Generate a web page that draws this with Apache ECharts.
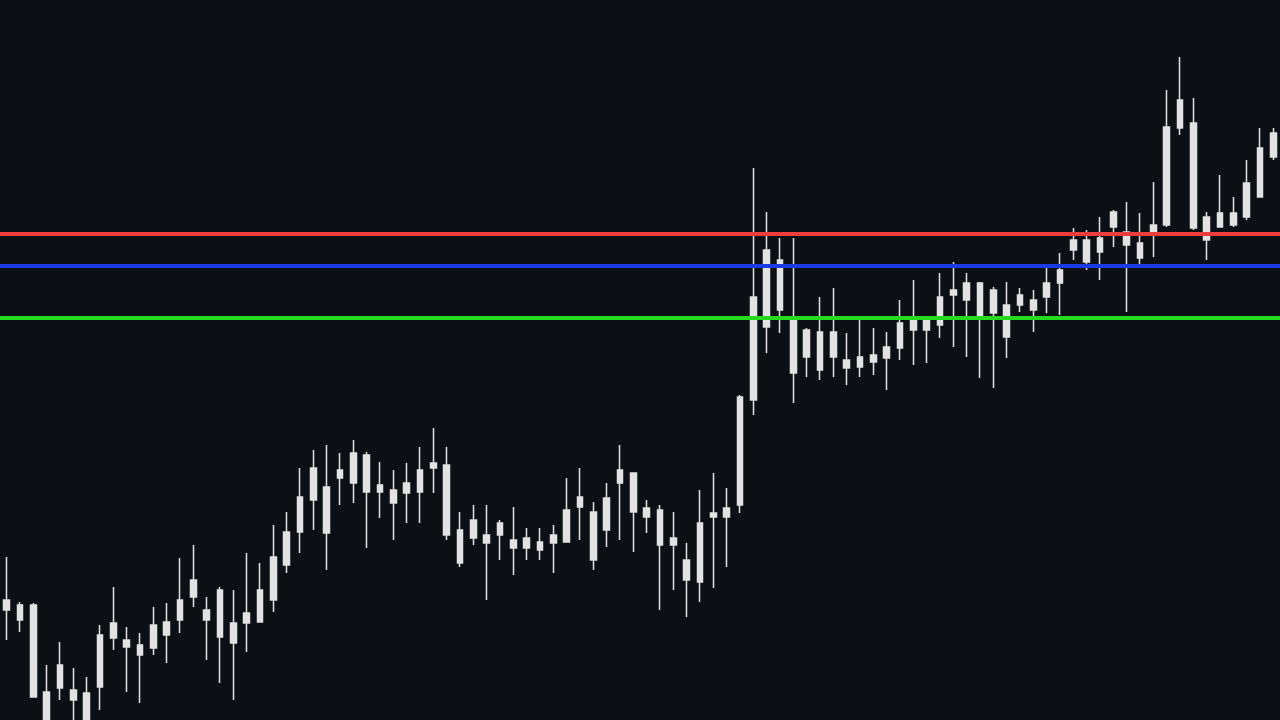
<!DOCTYPE html>
<html>
<head>
<meta charset="utf-8">
<script src="https://cdn.jsdelivr.net/npm/echarts@6/dist/echarts.min.js"></script>
<style>
html,body{margin:0;padding:0;background:#0c0f14;}
#chart{width:1280px;height:720px;}
</style>
</head>
<body>
<div id="chart"></div>
<script>
// Candle values (price units)
const opens  = [110,100,23,-5,32,20,-5,33,82,73,65,72,85,100,123,100,83,77,97,98,120,155,188,220,187,242,237,228,228,217,227,228,252,185,157,182,177,185,172,172,170,177,178,213,160,190,237,208,203,175,175,140,138,203,203,215,320,393,410,347,363,350,363,352,353,358,362,372,390,390,395,425,420,403,407,383,415,410,423,437,470,458,468,493,475,462,485,495,592,492,480,493,495,503,523,563];
const closes = [120,115,115,28,55,30,27,85,97,80,75,95,98,120,140,110,130,97,107,130,163,188,223,252,233,250,267,265,235,230,237,250,257,255,190,200,185,197,180,182,178,185,210,223,208,222,250,247,212,210,182,160,197,207,212,323,423,470,460,402,390,388,388,360,363,365,373,397,402,400,423,430,437,437,430,415,425,420,437,450,480,480,482,508,488,477,495,593,620,597,503,507,507,537,572,587];
const lows   = [80,88,23,-10,20,-5,-10,10,70,28,17,65,57,87,113,60,37,20,68,98,108,147,167,190,150,215,217,172,202,180,197,197,227,180,153,175,120,160,145,160,160,147,178,180,150,173,180,168,187,110,130,103,118,132,153,207,305,367,387,317,343,340,343,335,343,345,330,360,355,357,382,373,363,342,332,362,408,388,407,405,460,450,440,473,408,455,463,493,585,490,460,493,493,500,523,560];
const highs  = [163,118,117,55,78,52,43,95,133,93,87,113,117,162,175,123,133,130,167,157,195,208,252,270,275,267,280,268,258,250,257,273,292,273,208,215,215,200,213,192,192,195,242,252,218,237,275,247,220,215,208,177,230,247,232,325,552,508,482,482,392,423,432,387,400,392,388,420,440,403,447,458,447,438,433,438,432,430,452,467,492,490,503,510,518,507,538,630,663,622,508,545,523,560,592,592];
const categories = opens.map((_, i) => 'K' + (i + 1));

// Horizontal level lines
const levelRed = 486;
const levelBlue = 454;
const levelGreen = 402;

const candleData = opens.map((o, i) => [o, closes[i], lows[i], highs[i]]);

const chart = echarts.init(document.getElementById('chart'), null, {renderer: 'canvas'});
chart.setOption({
  backgroundColor: '#0c0f14',
  animation: false,
  grid: {left: 0, right: 0, top: 0, bottom: 0},
  xAxis: {
    type: 'category', data: categories, boundaryGap: true,
    show: false
  },
  yAxis: {
    type: 'value', min: 0, max: 720, show: false, splitLine: {show: false}
  },
  series: [{
    type: 'candlestick',
    data: candleData,
    barWidth: 6,
    itemStyle: {
      color: '#e2e2e2', color0: '#e2e2e2',
      borderColor: '#e2e2e2', borderColor0: '#e2e2e2',
      borderWidth: 1.5
    },
    markLine: {
      silent: true,
      symbol: ['none', 'none'],
      label: {show: false},
      animation: false,
      data: [
        {yAxis: levelRed, lineStyle: {color: '#ec3c3c', width: 4, type: 'solid'}},
        {yAxis: levelBlue, lineStyle: {color: '#1d3ae4', width: 4, type: 'solid'}},
        {yAxis: levelGreen, lineStyle: {color: '#24db1e', width: 4, type: 'solid'}}
      ]
    }
  }]
});
</script>
</body>
</html>
